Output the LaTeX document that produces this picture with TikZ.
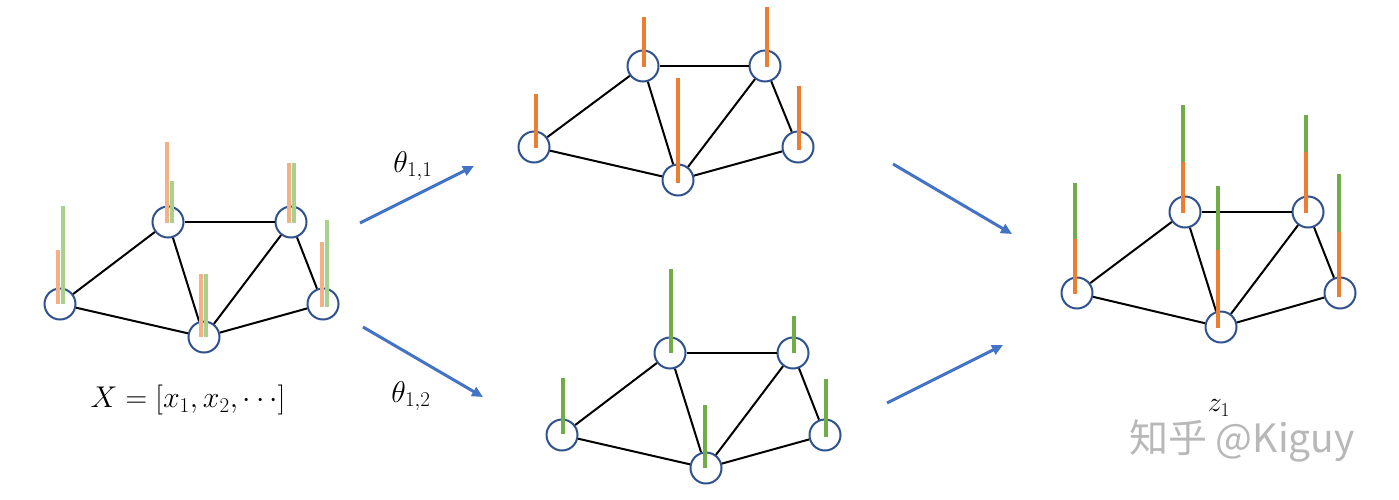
\RequirePackage{fix-cm}
\documentclass[tikz,border=0pt]{standalone}
\usepackage{fontspec}
\newfontfamily\cjk{Noto Sans CJK SC}
\usetikzlibrary{arrows.meta}
\definecolor{lor}{HTML}{F4B183}
\definecolor{lgr}{HTML}{A9D18E}
\definecolor{dor}{HTML}{ED7D31}
\definecolor{dgr}{HTML}{70AD47}
\definecolor{ablue}{HTML}{4472C4}
\definecolor{vblue}{HTML}{2F528F}
\begin{document}
\begin{tikzpicture}[x=1pt,y=-1pt,
  vtx/.style={circle,draw=vblue,line width=2pt,fill=white,minimum size=31pt,inner sep=0pt},
  edge/.style={line width=2pt,black},
  bar/.style={line width=4pt},
  flow/.style={line width=3pt,ablue,-{Triangle[length=11pt,width=10pt]}},
  lbl/.style={inner sep=0pt}]
\useasboundingbox[fill=white] (0,0) rectangle (1399,499);

% ---------- graph 1 (input) ----------
\node[vtx] (p1) at (60,304) {};
\node[vtx] (p2) at (168,222) {};
\node[vtx] (p3) at (291,222) {};
\node[vtx] (p4) at (204,337) {};
\node[vtx] (p5) at (323,304) {};
% ---------- graph 2 (top) ----------
\node[vtx] (q1) at (534,147) {};
\node[vtx] (q2) at (643,66) {};
\node[vtx] (q3) at (765,66) {};
\node[vtx] (q4) at (678,180) {};
\node[vtx] (q5) at (798,147) {};
% ---------- graph 3 (bottom) ----------
\node[vtx] (r1) at (562,435) {};
\node[vtx] (r2) at (670,353) {};
\node[vtx] (r3) at (793,353) {};
\node[vtx] (r4) at (706,468) {};
\node[vtx] (r5) at (825,435) {};
% ---------- graph 4 (output) ----------
\node[vtx] (s1) at (1077,293) {};
\node[vtx] (s2) at (1185,212) {};
\node[vtx] (s3) at (1308,212) {};
\node[vtx] (s4) at (1221,327) {};
\node[vtx] (s5) at (1340,293) {};

\foreach \g in {p,q,r,s}{
  \draw[edge] (\g1) -- (\g2);
  \draw[edge] (\g1) -- (\g4);
  \draw[edge] (\g2) -- (\g3);
  \draw[edge] (\g2) -- (\g4);
  \draw[edge] (\g3) -- (\g4);
  \draw[edge] (\g3) -- (\g5);
  \draw[edge] (\g4) -- (\g5);
}

% bars graph 1
\draw[bar,lor] (58,304) -- (58,250);
\draw[bar,lgr] (62.5,304) -- (62.5,206);
\draw[bar,lor] (167,223) -- (167,142);
\draw[bar,lgr] (171.5,223) -- (171.5,181);
\draw[bar,lor] (289,223) -- (289,163);
\draw[bar,lgr] (293.5,223) -- (293.5,163);
\draw[bar,lor] (201,337) -- (201,274);
\draw[bar,lgr] (205.5,337) -- (205.5,274);
\draw[bar,lor] (322,307) -- (322,242);
\draw[bar,lgr] (326.5,307) -- (326.5,220);

% bars graph 2
\draw[bar,dor] (536,148) -- (536,94);
\draw[bar,dor] (644,67) -- (644,17);
\draw[bar,dor] (767,67) -- (767,7);
\draw[bar,dor] (678,183) -- (678,78);
\draw[bar,dor] (799,150) -- (799,86);

% bars graph 3
\draw[bar,dgr] (563,434) -- (563,378);
\draw[bar,dgr] (671,353) -- (671,269);
\draw[bar,dgr] (794,353) -- (794,316);
\draw[bar,dgr] (705,468) -- (705,405);
\draw[bar,dgr] (826,437) -- (826,379);

% bars graph 4
\draw[bar,dor] (1075,294) -- (1075,239);
\draw[bar,dgr] (1075,239) -- (1075,183);
\draw[bar,dor] (1183,213) -- (1183,162);
\draw[bar,dgr] (1183,162) -- (1183,105);
\draw[bar,dor] (1306,213) -- (1306,152);
\draw[bar,dgr] (1306,152) -- (1306,115);
\draw[bar,dor] (1218,328) -- (1218,250);
\draw[bar,dgr] (1218,250) -- (1218,186);
\draw[bar,dor] (1339,297) -- (1339,232);
\draw[bar,dgr] (1339,232) -- (1339,174);

% arrows
\coordinate (a1s) at (360,223); \coordinate (a1e) at (474,166);
\coordinate (a2s) at (363,327); \coordinate (a2e) at (483,397);
\coordinate (a3s) at (893,164); \coordinate (a3e) at (1012,234);
\coordinate (a4s) at (887,403); \coordinate (a4e) at (1003,345);
\draw[flow] (a1s) -- (a1e);
\draw[flow] (a2s) -- (a2e);
\draw[flow] (a3s) -- (a3e);
\draw[flow] (a4s) -- (a4e);

% labels
\node[lbl] (t11) at (413,166) {\fontsize{30}{34}\selectfont $\theta_{1,1}$};
\node[lbl] (t12) at (411,396) {\fontsize{30}{34}\selectfont $\theta_{1,2}$};
\node[lbl] (xl) at (188,400) {\fontsize{30}{36}\selectfont $X=[x_1,x_2,\cdots]$};
\node[lbl,text=black!28] (wm) at (1242,441) {\fontsize{39}{44}\selectfont\cjk 知乎 @Kiguy};
\node[lbl] (zl) at (1219,408) {\fontsize{28}{32}\selectfont $z_1$};
\end{tikzpicture}
\end{document}
